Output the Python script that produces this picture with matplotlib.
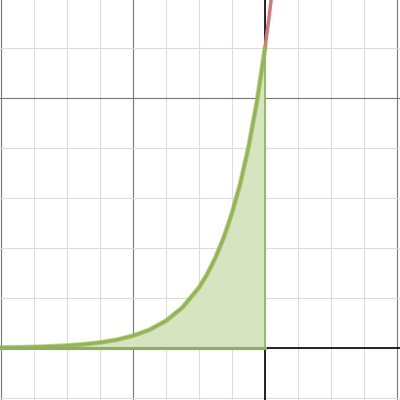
import matplotlib
matplotlib.use("Agg")
import matplotlib.pyplot as plt
import numpy as np

# points (graph units)
curve_x = [-8, -7.5, -7, -6.5, -6, -5.5, -5, -4.5, -4, -3.5, -3, -2.5, -2,
           -1.75, -1.5, -1.25, -1, -0.75, -0.5, -0.25, 0]
curve_y = [0.01, 0.015, 0.022, 0.033, 0.049, 0.074, 0.11, 0.164, 0.245, 0.365,
           0.544, 0.812, 1.21, 1.48, 1.81, 2.21, 2.70, 3.29, 4.02, 4.91, 6.0]
tail_x = [0, 0.125, 0.25]
tail_y = [6.0, 6.63, 7.33]

fig = plt.figure(figsize=(4, 4), dpi=100)
ax = fig.add_axes([0, 0, 1, 1])
ax.set_xlim(-265 / 33, 135 / 33)
ax.set_ylim(-52 / 50, 348 / 50)

for gx in range(-8, 5):
    ax.axvline(gx, color="#777" if gx % 4 == 0 and gx != 0 else "#dcdcdc",
               lw=0.8, zorder=0)
for gy in range(-1, 7):
    ax.axhline(gy, color="#777" if gy % 5 == 0 and gy != 0 else "#dcdcdc",
               lw=0.8, zorder=0)
ax.axvline(0, color="black", lw=1.2, zorder=1)
ax.axhline(0, color="black", lw=1.2, zorder=1)

ax.fill_between(curve_x, 0, curve_y, color="#d6e4bf", zorder=2)
ax.plot([curve_x[-1], curve_x[-1]], [0, curve_y[-1]], color="#8ab25a", lw=1.2, zorder=3)
ax.plot(tail_x, tail_y, color="#d4777a", lw=2.5, zorder=3)
ax.plot(curve_x, curve_y, color="#a6b060", lw=3.5, alpha=0.6, zorder=3)
ax.plot(curve_x, curve_y, color="#8fb850", lw=2.2, zorder=4)
ax.plot([curve_x[0], 0], [0, 0], color="#8ab25a", lw=2.2, zorder=4)

ax.set_xticks([])
ax.set_yticks([])
for s in ax.spines.values():
    s.set_visible(False)
fig.savefig("out.png", dpi=100)
